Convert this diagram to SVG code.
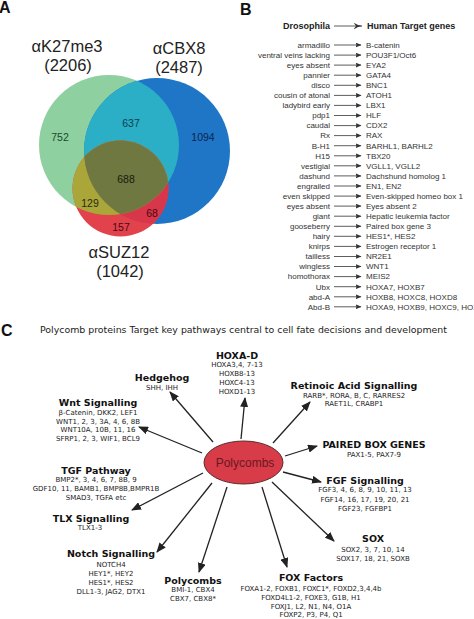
<svg xmlns="http://www.w3.org/2000/svg" width="474" height="619" viewBox="0 0 474 619">
<style>
.pl{font-family:"Liberation Sans",Arial,sans-serif;font-weight:bold;font-size:16px;fill:#111}
.vl{font-family:"Liberation Sans",Arial,sans-serif;font-size:16.5px;fill:#222;text-anchor:middle}
.vn{font-family:"Liberation Sans",Arial,sans-serif;font-size:10.5px;text-anchor:middle}
.bh{font-family:"Liberation Sans",Arial,sans-serif;font-size:9px;font-weight:bold;fill:#222}
.bl{font-family:"Liberation Sans",Arial,sans-serif;font-size:8px;fill:#333;text-anchor:end}
.br{font-family:"Liberation Sans",Arial,sans-serif;font-size:8px;fill:#333}
.ba{stroke:#333;stroke-width:0.8;fill:none;marker-end:url(#sa)}
.ct{font-family:"DejaVu Sans",sans-serif;font-size:8.5px;fill:#222}
.ch{font-family:"DejaVu Sans",sans-serif;font-size:9.5px;font-weight:bold;fill:#111;text-anchor:middle}
.cs{font-family:"DejaVu Sans",sans-serif;font-size:7px;fill:#222;text-anchor:middle}
.ca{stroke:#222;stroke-width:1.3;fill:none;marker-end:url(#ca)}
</style>
<defs>
<clipPath id="cg"><circle cx="109" cy="145" r="70"/></clipPath>
<clipPath id="cb"><circle cx="157" cy="151" r="73"/></clipPath>
<marker id="sa" markerUnits="userSpaceOnUse" markerWidth="6" markerHeight="5" refX="5.5" refY="2.5" orient="auto"><path d="M0,0 L6,2.5 L0,5 L1,2.5 z" fill="#333"/></marker>
<marker id="ta" markerUnits="userSpaceOnUse" markerWidth="9" markerHeight="7" refX="8.5" refY="3.5" orient="auto"><path d="M0,0 Q4,3 9,3.5 Q4,4 0,7 L2.5,3.5 z" fill="#333"/></marker>
<marker id="ca" markerUnits="userSpaceOnUse" markerWidth="10" markerHeight="8" refX="9" refY="4" orient="auto"><path d="M0,0 L10,4 L0,8 z" fill="#222"/></marker>
</defs>
<rect width="474" height="619" fill="#fff"/>

<text class="pl" x="-1" y="13">A</text>
<text class="pl" x="240" y="15">B</text>
<text class="pl" x="1" y="336">C</text>

<g id="venn">
<circle cx="109" cy="145" r="70" fill="#8fd0a0"/>
<circle cx="157" cy="151" r="73" fill="#1f76c6"/>
<circle cx="157" cy="151" r="73" fill="#2aafc6" clip-path="url(#cg)"/>
<circle cx="120.5" cy="188.5" r="48" fill="#e2424c"/>
<circle cx="120.5" cy="188.5" r="48" fill="#d8364a" clip-path="url(#cb)"/>
<circle cx="120.5" cy="188.5" r="48" fill="#aaa63a" clip-path="url(#cg)"/>
<g clip-path="url(#cb)"><circle cx="120.5" cy="188.5" r="48" fill="#6e7840" clip-path="url(#cg)"/></g>
<text class="vn" x="60" y="141" fill="#1a4a2a">752</text>
<text class="vn" x="131" y="127" fill="#0a4050">637</text>
<text class="vn" x="203" y="141" fill="#0a2450">1094</text>
<text class="vn" x="126" y="183" fill="#1a1a10">688</text>
<text class="vn" x="90" y="207" fill="#2a2a10">129</text>
<text class="vn" x="152" y="217" fill="#4a0a10">68</text>
<text class="vn" x="121" y="231" fill="#4a0a10">157</text>
<text class="vl" x="67" y="52">αK27me3</text>
<text class="vl" x="68" y="71">(2206)</text>
<text class="vl" x="179" y="54">αCBX8</text>
<text class="vl" x="179" y="73">(2487)</text>
<text class="vl" x="119" y="258">αSUZ12</text>
<text class="vl" x="120" y="277">(1042)</text>
</g>

<g id="panelB">
<text class="bh" x="330" y="29" text-anchor="end">Drosophila</text>
<text class="bh" x="367" y="29">Human Target genes</text>
<line x1="334" y1="26" x2="362" y2="26" stroke="#333" stroke-width="0.8" marker-end="url(#ta)"/>
<g id="rows">
<text class="bl" x="330" y="47.8">armadillo</text><text class="br" x="366" y="47.8">B-catenin</text>
<text class="bl" x="330" y="57.9">ventral veins lacking</text><text class="br" x="366" y="57.9">POU3F1/Oct6</text>
<text class="bl" x="330" y="67.9">eyes absent</text><text class="br" x="366" y="67.9">EYA2</text>
<text class="bl" x="330" y="78">pannier</text><text class="br" x="366" y="78">GATA4</text>
<text class="bl" x="330" y="88.1">disco</text><text class="br" x="366" y="88.1">BNC1</text>
<text class="bl" x="330" y="98.2">cousin of atonal</text><text class="br" x="366" y="98.2">ATOH1</text>
<text class="bl" x="330" y="108.2">ladybird early</text><text class="br" x="366" y="108.2">LBX1</text>
<text class="bl" x="330" y="118.3">pdp1</text><text class="br" x="366" y="118.3">HLF</text>
<text class="bl" x="330" y="128.4">caudal</text><text class="br" x="366" y="128.4">CDX2</text>
<text class="bl" x="330" y="138.4">Rx</text><text class="br" x="366" y="138.4">RAX</text>
<text class="bl" x="330" y="148.5">B-H1</text><text class="br" x="366" y="148.5">BARHL1, BARHL2</text>
<text class="bl" x="330" y="158.6">H15</text><text class="br" x="366" y="158.6">TBX20</text>
<text class="bl" x="330" y="168.6">vestigial</text><text class="br" x="366" y="168.6">VGLL1, VGLL2</text>
<text class="bl" x="330" y="178.7">dashund</text><text class="br" x="366" y="178.7">Dachshund homolog 1</text>
<text class="bl" x="330" y="188.8">engrailed</text><text class="br" x="366" y="188.8">EN1, EN2</text>
<text class="bl" x="330" y="198.9">even skipped</text><text class="br" x="366" y="198.9">Even-skipped homeo box 1</text>
<text class="bl" x="330" y="208.9">eyes absent</text><text class="br" x="366" y="208.9">Eyes absent 2</text>
<text class="bl" x="330" y="219">giant</text><text class="br" x="366" y="219">Hepatic leukemia factor</text>
<text class="bl" x="330" y="229.1">gooseberry</text><text class="br" x="366" y="229.1">Paired box gene 3</text>
<text class="bl" x="330" y="239.1">hairy</text><text class="br" x="366" y="239.1">HES1*, HES2</text>
<text class="bl" x="330" y="249.2">knirps</text><text class="br" x="366" y="249.2">Estrogen receptor 1</text>
<text class="bl" x="330" y="259.3">tailless</text><text class="br" x="366" y="259.3">NR2E1</text>
<text class="bl" x="330" y="269.3">wingless</text><text class="br" x="366" y="269.3">WNT1</text>
<text class="bl" x="330" y="279.4">homothorax</text><text class="br" x="366" y="279.4">MEIS2</text>
<text class="bl" x="330" y="289.5">Ubx</text><text class="br" x="366" y="289.5">HOXA7, HOXB7</text>
<text class="bl" x="330" y="299.6">abd-A</text><text class="br" x="366" y="299.6">HOXB8, HOXC8, HOXD8</text>
<text class="bl" x="330" y="309.6">Abd-B</text><text class="br" x="366" y="309.6">HOXA9, HOXB9, HOXC9, HOXD9</text>
</g>
<g id="rowArrows">
<line class="ba" x1="334" y1="45" x2="361" y2="45"/>
<line class="ba" x1="334" y1="55.1" x2="361" y2="55.1"/>
<line class="ba" x1="334" y1="65.1" x2="361" y2="65.1"/>
<line class="ba" x1="334" y1="75.2" x2="361" y2="75.2"/>
<line class="ba" x1="334" y1="85.3" x2="361" y2="85.3"/>
<line class="ba" x1="334" y1="95.4" x2="361" y2="95.4"/>
<line class="ba" x1="334" y1="105.4" x2="361" y2="105.4"/>
<line class="ba" x1="334" y1="115.5" x2="361" y2="115.5"/>
<line class="ba" x1="334" y1="125.6" x2="361" y2="125.6"/>
<line class="ba" x1="334" y1="135.6" x2="361" y2="135.6"/>
<line class="ba" x1="334" y1="145.7" x2="361" y2="145.7"/>
<line class="ba" x1="334" y1="155.8" x2="361" y2="155.8"/>
<line class="ba" x1="334" y1="165.8" x2="361" y2="165.8"/>
<line class="ba" x1="334" y1="175.9" x2="361" y2="175.9"/>
<line class="ba" x1="334" y1="186" x2="361" y2="186"/>
<line class="ba" x1="334" y1="196.1" x2="361" y2="196.1"/>
<line class="ba" x1="334" y1="206.1" x2="361" y2="206.1"/>
<line class="ba" x1="334" y1="216.2" x2="361" y2="216.2"/>
<line class="ba" x1="334" y1="226.3" x2="361" y2="226.3"/>
<line class="ba" x1="334" y1="236.3" x2="361" y2="236.3"/>
<line class="ba" x1="334" y1="246.4" x2="361" y2="246.4"/>
<line class="ba" x1="334" y1="256.5" x2="361" y2="256.5"/>
<line class="ba" x1="334" y1="266.5" x2="361" y2="266.5"/>
<line class="ba" x1="334" y1="276.6" x2="361" y2="276.6"/>
<line class="ba" x1="334" y1="286.7" x2="361" y2="286.7"/>
<line class="ba" x1="334" y1="296.8" x2="361" y2="296.8"/>
<line class="ba" x1="334" y1="306.8" x2="361" y2="306.8"/>
</g>
</g>

<text class="ct" x="40" y="333" textLength="407" lengthAdjust="spacingAndGlyphs">Polycomb proteins Target key pathways central to cell fate decisions and development</text>

<g id="connectors">
<line class="ca" x1="241" y1="439" x2="245" y2="398"/>
<line class="ca" x1="213" y1="442" x2="170" y2="392"/>
<line class="ca" x1="202" y1="453" x2="139" y2="427"/>
<line class="ca" x1="203" y1="473" x2="132" y2="510"/>
<line class="ca" x1="212" y1="483" x2="157" y2="552"/>
<line class="ca" x1="227" y1="487" x2="199" y2="572"/>
<line class="ca" x1="262" y1="487" x2="287" y2="567"/>
<line class="ca" x1="272" y1="482" x2="334" y2="541"/>
<line class="ca" x1="283" y1="472" x2="321" y2="482"/>
<line class="ca" x1="285" y1="456" x2="317" y2="446"/>
<line class="ca" x1="273" y1="443" x2="310" y2="402"/>
</g>

<g id="polycombs-center">
<ellipse cx="243.5" cy="462.5" rx="39.5" ry="21.5" fill="#d83c48" stroke="#5a2a2a" stroke-width="1"/>
<text x="245" y="467" font-family="Liberation Sans, Arial, sans-serif" font-size="12" fill="#6a1820" text-anchor="middle">Polycombs</text>
</g>

<g id="hoxa-d">
<text class="ch" x="237" y="358.5">HOXA-D</text>
<text class="cs" x="237" y="366.5">HOXA3,4, 7-13</text>
<text class="cs" x="237" y="375.5">HOXB8-13</text>
<text class="cs" x="237" y="384.5">HOXC4-13</text>
<text class="cs" x="237" y="393.5">HOXD1-13</text>
</g>
<g id="hedgehog">
<text class="ch" x="162" y="381">Hedgehog</text>
<text class="cs" x="162" y="389.5">SHH, IHH</text>
</g>
<g id="wnt">
<text class="ch" x="98" y="406">Wnt Signalling</text>
<text class="cs" x="98" y="414.5">β-Catenin, DKK2, LEF1</text>
<text class="cs" x="98" y="423.5">WNT1, 2, 3, 3A, 4, 6, 8B</text>
<text class="cs" x="98" y="431.5">WNT10A, 10B, 11, 16</text>
<text class="cs" x="98" y="440.5">SFRP1, 2, 3, WIF1, BCL9</text>
</g>
<g id="tgf">
<text class="ch" x="96" y="474">TGF Pathway</text>
<text class="cs" x="96" y="481.5">BMP2*, 3, 4, 6, 7, 8B, 9</text>
<text class="cs" x="96" y="490.5">GDF10, 11, BAMB1, BMP8B,BMPR1B</text>
<text class="cs" x="96" y="499.5">SMAD3, TGFA etc</text>
</g>
<g id="tlx">
<text class="ch" x="91" y="522">TLX Signalling</text>
<text class="cs" x="90" y="529.5">TLX1-3</text>
</g>
<g id="notch">
<text class="ch" x="111" y="557">Notch Signalling</text>
<text class="cs" x="111" y="566.5">NOTCH4</text>
<text class="cs" x="111" y="575.5">HEY1*, HEY2</text>
<text class="cs" x="111" y="584.5">HES1*, HES2</text>
<text class="cs" x="111" y="593.5">DLL1-3, JAG2, DTX1</text>
</g>
<g id="polycombs">
<text class="ch" x="193" y="584">Polycombs</text>
<text class="cs" x="193" y="591.5">BMI-1, CBX4</text>
<text class="cs" x="193" y="600.5">CBX7, CBX8*</text>
</g>
<g id="fox">
<text class="ch" x="311" y="581">FOX Factors</text>
<text class="cs" x="311" y="590.5">FOXA1-2, FOXB1, FOXC1*, FOXD2,3,4,4b</text>
<text class="cs" x="311" y="599.5">FOXD4L1-2, FOXE3, G1B, H1</text>
<text class="cs" x="311" y="608.5">FOXJ1, L2, N1, N4, O1A</text>
<text class="cs" x="311" y="616.5">FOXP2, P3, P4, Q1</text>
</g>
<g id="sox">
<text class="ch" x="373" y="542">SOX</text>
<text class="cs" x="373" y="551.5">SOX2, 3, 7, 10, 14</text>
<text class="cs" x="373" y="560.5">SOX17, 18, 21, SOXB</text>
</g>
<g id="fgf">
<text class="ch" x="365" y="484">FGF Signalling</text>
<text class="cs" x="365" y="492">FGF3, 4, 6, 8, 9, 10, 11, 13</text>
<text class="cs" x="365" y="501.5">FGF14, 16, 17, 19, 20, 21</text>
<text class="cs" x="365" y="510.5">FGF23, FGFBP1</text>
</g>
<g id="paired">
<text class="ch" x="374" y="448" font-size="10.3">PAIRED BOX GENES</text>
<text class="cs" x="374" y="456.5">PAX1-5, PAX7-9</text>
</g>
<g id="retinoic">
<text class="ch" x="354" y="389">Retinoic Acid Signalling</text>
<text class="cs" x="354" y="397.5">RARB*, RORA, B, C, RARRES2</text>
<text class="cs" x="354" y="405.5">RAET1L, CRABP1</text>
</g>
</svg>
